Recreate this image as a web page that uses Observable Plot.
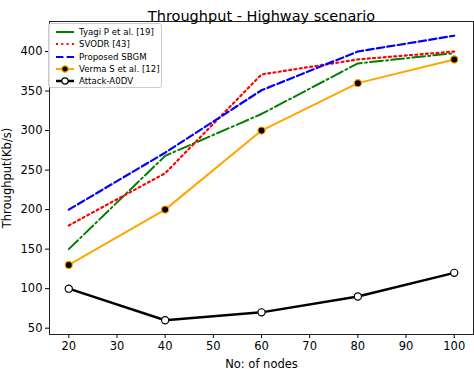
<!DOCTYPE html>
<html><head><meta charset="utf-8">
<script src="https://cdn.jsdelivr.net/npm/d3@7"></script>
<script src="https://cdn.jsdelivr.net/npm/@observablehq/plot@0.6"></script>
<style>
body{margin:0;background:#fff;}
#wrap{position:relative;width:474px;height:369px;font-family:"DejaVu Sans",sans-serif;}
#legend{position:absolute;left:48px;top:23px;width:114px;height:65px;box-sizing:border-box;border:1px solid #ccc;border-radius:3px;background:rgba(255,255,255,0.85);padding:2px 0 0 0;font-size:8.6px;white-space:nowrap;}
#legend .row{display:flex;align-items:center;height:12.3px;}
#legend svg{margin:0 4px 0 6px;flex:none;}
</style>
</head><body>
<div id="wrap"><div id="legend"></div></div>
<script>
const nodes = [20, 40, 60, 80, 100];
const seriesNames = ["Tyagi P et al. [19]", "SVODR [43]", "Proposed SBGM", "Verma S et al. [12]", "Attack-A0DV"];
const tyagi = [150, 268, 321, 385, 398];
const svodr = [180, 246, 371, 390, 400];
const sbgm = [200, 272, 351, 400, 420];
const verma = [130, 200, 300, 360, 390];
const aodv = [100, 60, 70, 90, 120];
const xTicks = [20, 30, 40, 50, 60, 70, 80, 90, 100];
const yTicks = [50, 100, 150, 200, 250, 300, 350, 400];

const styles = [
  {stroke: "green", dash: "12.8,3.2,2,3.2", width: 2, legendDash: null},
  {stroke: "red", dash: "2,3.3", width: 2.2, legendDash: "2,3.3"},
  {stroke: "blue", dash: "7.4,3.2", width: 2.2, legendDash: "7.4,3.2"},
  {stroke: "orange", dash: null, width: 2, dotFill: "black", dotStroke: "orange", legendDash: null},
  {stroke: "black", dash: null, width: 2.5, dotFill: "white", dotStroke: "black", legendDash: null}
];
const values = [tyagi, svodr, sbgm, verma, aodv];
const tables = values.map((v, i) => nodes.map((n, j) => ({x: n, y: v[j], s: seriesNames[i]})));

const marks = [
  Plot.frame({stroke: "#222", strokeWidth: 1}),
  Plot.axisX({ticks: xTicks, tickSize: 4, tickPadding: 3, fontSize: 11.5, label: "No: of nodes", labelAnchor: "center", labelArrow: "none", labelOffset: 33}),
  Plot.axisY({ticks: yTicks, tickSize: 4, tickPadding: 3, fontSize: 11.5, label: "Throughput(Kb/s)", labelAnchor: "center", labelArrow: "none", labelOffset: 47})
];
tables.forEach((t, i) => {
  const st = styles[i];
  marks.push(Plot.line(t, {x: "x", y: "y", stroke: st.stroke, strokeWidth: st.width, strokeDasharray: st.dash}));
  if (st.dotFill) marks.push(Plot.dot(t, {x: "x", y: "y", r: 3.6, fill: st.dotFill, stroke: st.dotStroke, strokeWidth: 1.2}));
});
marks.push(Plot.text(["Throughput - Highway scenario"], {frameAnchor: "top", dy: -11, fontSize: 14.5, fill: "black"}));

const chart = Plot.plot({
  width: 474, height: 369,
  marginLeft: 49, marginRight: 1, marginTop: 21, marginBottom: 35,
  x: {domain: [16, 104]},
  y: {domain: [42, 438]},
  style: {fontFamily: "DejaVu Sans", fontSize: "12px", color: "black", background: "white"},
  marks
});
document.getElementById("wrap").prepend(chart);

const legend = document.getElementById("legend");
seriesNames.forEach((name, i) => {
  const st = styles[i];
  const row = document.createElement("div");
  row.className = "row";
  let svg = `<svg width="20" height="10"><line x1="1" x2="19" y1="5" y2="5" stroke="${st.stroke}" stroke-width="${st.width}" ${st.legendDash ? `stroke-dasharray="${st.legendDash}"` : ""}/>`;
  if (st.dotFill) svg += `<circle cx="10" cy="5" r="3.2" fill="${st.dotFill}" stroke="${st.dotStroke}" stroke-width="1.2"/>`;
  svg += `</svg>`;
  row.innerHTML = svg + `<span>${name}</span>`;
  legend.appendChild(row);
});
</script>
</body></html>
